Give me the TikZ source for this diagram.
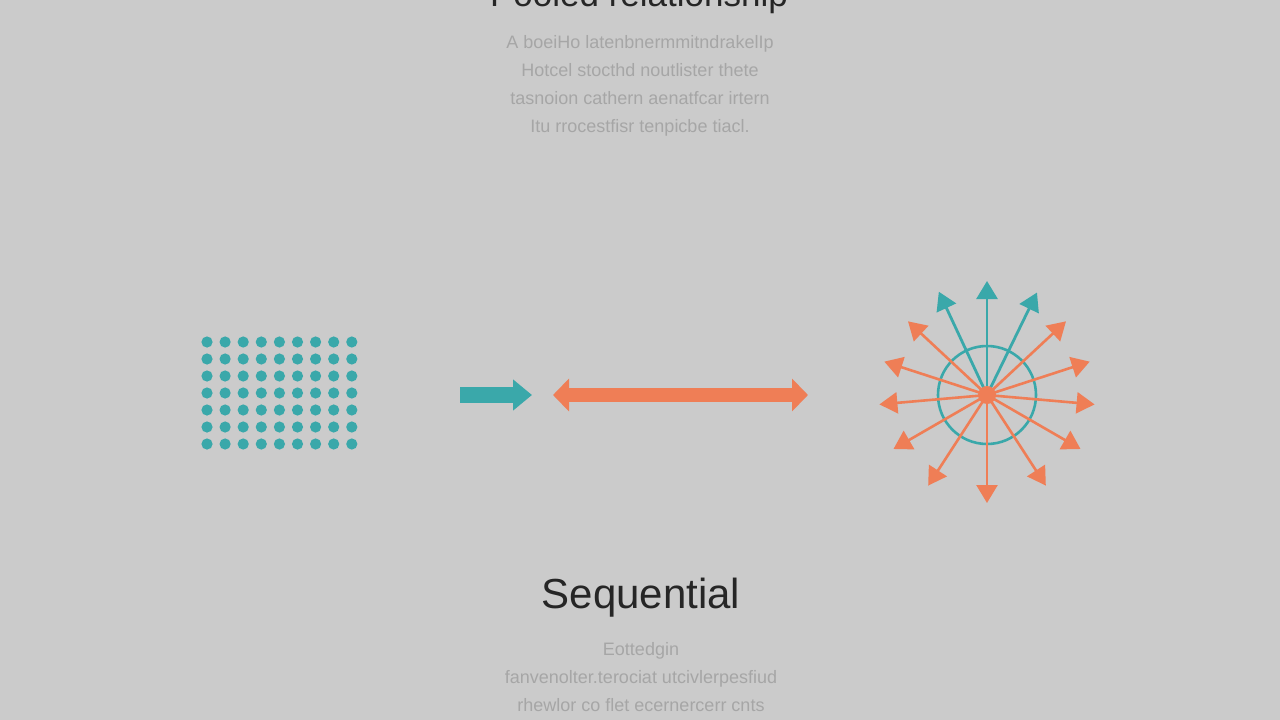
\documentclass[tikz,border=0pt]{standalone}
\usepackage{fontspec}
\setmainfont{Liberation Sans}
\usetikzlibrary{arrows.meta,calc}
\definecolor{bg}{HTML}{CBCBCB}
\definecolor{tealc}{HTML}{3AA8AA}
\definecolor{orangec}{HTML}{EF7E56}
\definecolor{titlec}{HTML}{262626}
\definecolor{parac}{HTML}{A6A6A6}
\tikzset{
  titletext/.style={font=\fontsize{35}{40}\selectfont, text=titlec, inner sep=0pt},
  headtext/.style={font=\fontsize{42}{46}\selectfont, text=titlec, inner sep=0pt},
  paratext/.style={font=\fontsize{18}{28}\selectfont, text=parac, align=center, inner sep=0pt},
  dotc/.style={fill=tealc, draw=none},
  blockteal/.style={draw=tealc, line width=16pt, -{Triangle[width=30pt,length=19pt]}},
  blockorange/.style={draw=orangec, line width=14pt, {Triangle[width=32pt,length=16pt]}-{Triangle[width=32pt,length=16pt]}},
  rayorange/.style={draw=orangec, line width=2.6pt, -{Triangle[width=21pt,length=18pt]}},
  rayteal/.style={draw=tealc, line width=2.8pt, -{Triangle[width=21pt,length=18pt]}},
}
\begin{document}
\begin{tikzpicture}[x=1pt,y=-1pt]
\fill[bg] (0,0) rectangle (1280,720);
\clip (0,0) rectangle (1280,720);
\useasboundingbox (0,0) rectangle (1280,720);

% title (clipped at top, as in the reference)
\node[titletext, anchor=base] (title) at (639,6) {Pooled relationship};
\node[paratext, anchor=north] (desc1) at (640,35) {A boeiHo latenbnermmitndrakelIp\\Hotcel stocthd noutlister thete\\tasnoion cathern aenatfcar irtern\\Itu rrocestfisr tenpicbe tiacl.};

% dot grid
\foreach \i in {0,...,8}{
  \foreach \j in {0,...,6}{
    \fill[dotc] (207+18.1*\i, 342+17*\j) circle (5.6);
  }
}

% middle arrows
\coordinate (ta1) at (460,395);
\coordinate (ta2) at (532,395);
\draw[blockteal] (ta1) -- (ta2);
\coordinate (oa1) at (553,395);
\coordinate (oa2) at (808,395);
\draw[blockorange] (oa1) -- (oa2);

% radial diagram (angles negated because the y axis points down)
\coordinate (c) at (987,395);
\draw[tealc, line width=2.6pt] (c) circle (49);
\foreach \a [count=\k] in {137,43,162,18,185,355,210,330,237,303,270}{
  \coordinate (ro\k) at ($(c)+(-\a:108)$);
}
\foreach \k in {1,...,11}{
  \draw[rayorange] (c) -- (ro\k);
}
\foreach \a [count=\k] in {115,90,64}{
  \coordinate (rt\k) at ($(c)+(-\a:114)$);
  \draw[rayteal] (c) -- (rt\k);
}
\fill[orangec] (c) circle (9);

% bottom heading
\node[headtext, anchor=base] (seq) at (641,608) {Sequential};
\node[paratext, anchor=north] (desc2) at (641,642) {Eottedgin\\fanvenolter.terociat utcivlerpesfiud\\rhewlor co flet ecernercerr cnts};
\end{tikzpicture}
\end{document}
